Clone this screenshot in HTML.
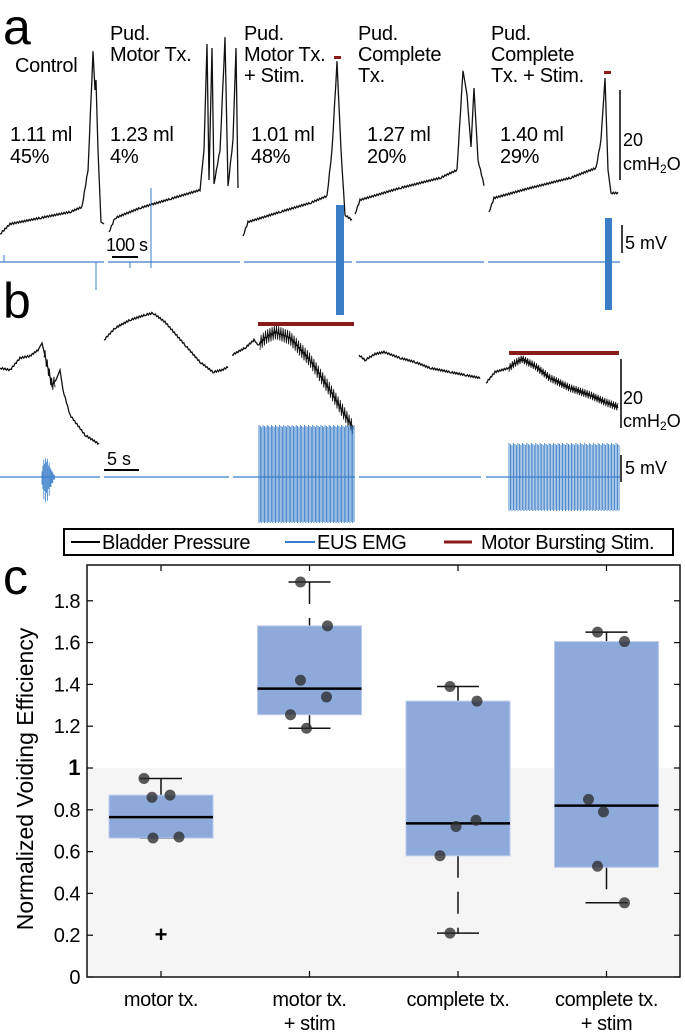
<!DOCTYPE html>
<html><head><meta charset="utf-8"><style>
body{margin:0;background:#fff}
svg{display:block;font-family:"Liberation Sans",sans-serif}
</style></head><body>
<svg id="fig" width="685" height="1032" viewBox="0 0 685 1032" xmlns="http://www.w3.org/2000/svg">
<g id="pa">
<text x="3" y="44" font-size="50">a</text>
<g font-size="20" fill="#000" letter-spacing="-0.3">
<text x="15" y="72">Control</text>
<text x="110" y="40"><tspan x="110">Pud.</tspan><tspan x="110" y="61">Motor Tx.</tspan></text>
<text x="244" y="40"><tspan x="244">Pud.</tspan><tspan x="244" y="61">Motor Tx.</tspan><tspan x="244" y="82">+ Stim.</tspan></text>
<text x="358" y="40"><tspan x="358">Pud.</tspan><tspan x="358" y="61">Complete</tspan><tspan x="358" y="82">Tx.</tspan></text>
<text x="491" y="40"><tspan x="491">Pud.</tspan><tspan x="491" y="61">Complete</tspan><tspan x="491" y="82">Tx. + Stim.</tspan></text>
<text x="10" y="141"><tspan x="10">1.11 ml</tspan><tspan x="10" y="163">45%</tspan></text>
<text x="110" y="141"><tspan x="110">1.23 ml</tspan><tspan x="110" y="163">4%</tspan></text>
<text x="251" y="141"><tspan x="251">1.01 ml</tspan><tspan x="251" y="163">48%</tspan></text>
<text x="367" y="141"><tspan x="367">1.27 ml</tspan><tspan x="367" y="163">20%</tspan></text>
<text x="500" y="141"><tspan x="500">1.40 ml</tspan><tspan x="500" y="163">29%</tspan></text>
</g>
<line x1="620" y1="90" x2="620" y2="180" stroke="#000" stroke-width="1.5"/>
<text x="623" y="146" font-size="18">20</text>
<text x="623" y="170" font-size="18">cmH<tspan font-size="12" dy="3">2</tspan><tspan dy="-3">O</tspan></text>
<line x1="622" y1="225" x2="622" y2="253" stroke="#000" stroke-width="1.5"/>
<text x="625" y="249" font-size="18">5 mV</text>
<line x1="112" y1="257" x2="138" y2="257" stroke="#000" stroke-width="2"/>
<text x="106" y="251" font-size="18" letter-spacing="-0.5">100 s</text>
<rect x="334" y="56" width="7" height="3" fill="#8b1a1a"/>
<rect x="604" y="71" width="7" height="3" fill="#8b1a1a"/>
</g>
<g id="pb">
<text x="3" y="318" font-size="50">b</text>
<rect x="258" y="322" width="96" height="4" fill="#8b1a1a"/>
<rect x="509" y="351" width="110" height="4" fill="#8b1a1a"/>
<line x1="621" y1="359" x2="621" y2="428" stroke="#000" stroke-width="1.5"/>
<text x="623" y="404" font-size="18">20</text>
<text x="623" y="427" font-size="18">cmH<tspan font-size="12" dy="3">2</tspan><tspan dy="-3">O</tspan></text>
<line x1="621" y1="455" x2="621" y2="482" stroke="#000" stroke-width="1.5"/>
<text x="625" y="474" font-size="18">5 mV</text>
<line x1="104" y1="470" x2="139" y2="470" stroke="#000" stroke-width="2"/>
<text x="107" y="465" font-size="18">5 s</text>
<g>
<rect x="64" y="529" width="609" height="26" fill="#fff" stroke="#000" stroke-width="2"/>
<line x1="71" y1="542" x2="100" y2="542" stroke="#000" stroke-width="2"/>
<text x="102" y="549" font-size="20" letter-spacing="-0.4">Bladder Pressure</text>
<line x1="285" y1="542" x2="315" y2="542" stroke="#3a7ec8" stroke-width="2"/>
<text x="317" y="549" font-size="20" letter-spacing="-0.4">EUS EMG</text>
<line x1="444" y1="542" x2="472" y2="542" stroke="#8b1a1a" stroke-width="3"/>
<text x="481" y="549" font-size="20" letter-spacing="-0.4">Motor Bursting Stim.</text>
</g>
</g>
<g id="pc">
<text x="3" y="594" font-size="50">c</text>
</g>
</svg>
<script>
const NS="http://www.w3.org/2000/svg";
const svg=document.getElementById('fig');
// ---- trace data (panel a): [x, y] control points
const traceA_control=[[0,234],[10,224],[40,218],[70,212],[82,207],[88,170],[93,52],[95,90],[96,80],[98,150],[101,222],[104,224]];
const traceA_motor=[[109,232],[115,218],[140,208],[170,199],[200,190],[204,150],[207,44],[209,180],[212,48],[214,184],[220,150],[225,38],[228,186],[233,140],[236,48],[238,188]];
const traceA_motorStim=[[243,236],[248,222],[280,212],[310,203],[327,196],[332,150],[337,62],[341,150],[345,215],[352,220]];
const traceA_complete=[[355,214],[360,200],[400,188],[440,178],[457,170],[463,70],[467,95],[471,147],[474,88],[478,160],[484,185]];
const traceA_completeStim=[[489,212],[494,198],[530,188],[570,178],[596,168],[601,140],[605,78],[608,170],[611,193],[618,193]];
// panel b
const traceB_control=[[0,368],[10,370],[20,358],[30,356],[38,350],[42,343],[46,360],[52,385],[56,380],[60,370],[63,390],[70,415],[85,435],[99,444]];
const traceB_motor=[[104,340],[115,328],[130,320],[145,315],[153,313],[165,322],[185,345],[200,362],[213,372],[222,370],[228,367]];
const traceB_motorStim=[[232,355],[245,348],[254,340],[258,345],[266,337],[276,332],[290,338],[310,360],[330,390],[353,428]];
const traceB_complete=[[359,355],[365,360],[375,354],[384,352],[400,358],[415,362],[430,368],[450,372],[465,375],[480,378]];
const traceB_completeStim=[[486,383],[495,372],[509,368],[515,363],[522,359],[535,366],[550,378],[570,388],[590,395],[605,402],[618,407]];
const ripple_motorStim=[260,353,7];
const ripple_completeStim=[509,618,4];
const ripple_control=[44,56,6];
// EMG
const emgA_gaps=[[104,108],[240,244],[352,356],[484,488]];
const emgA_spikes=[[96,262,290],[151,188,268],[4,255,262],[130,262,268]];
const emgA_blocks=[[336,344,205,315],[605,612,218,310]];
const emgB_gaps=[[100,104],[229,233],[355,359],[481,486]];
const emgB_burst=[[47,458,502]];
const emgB_blocks=[[259,354,425,523,70],[509,619,443,511,75]];

function el(tag,attrs,parent){const e=document.createElementNS(NS,tag);for(const k in attrs)e.setAttribute(k,attrs[k]);(parent||svg).appendChild(e);return e;}
function interp(pts,x){for(let i=0;i<pts.length-1;i++){if(x>=pts[i][0]&&x<=pts[i+1][0]){const t=(x-pts[i][0])/((pts[i+1][0]-pts[i][0])||1);return pts[i][1]+t*(pts[i+1][1]-pts[i][1]);}}return pts[pts.length-1][1];}
function trace(pts,name,rip){
  let d='M'+pts[0][0]+','+pts[0][1];
  for(let i=1;i<pts.length;i++){
    const [x0,y0]=pts[i-1],[x1,y1]=pts[i];
    const n=Math.max(1,Math.round((x1-x0)/1.2));
    for(let k=1;k<=n;k++){const x=x0+(x1-x0)*k/n,y=y0+(y1-y0)*k/n;const w=(k%2?0.8:-0.8)*(Math.abs(x1-x0)>4?1:0);d+=' L'+x.toFixed(1)+','+(y+w).toFixed(1);}
  }
  const p=el('path',{d:d,fill:'none',stroke:'#111','stroke-width':1.3});
  
  
  if(rip){let r='';let s=1;for(let x=rip[0];x<=rip[1];x+=1.1){const y=interp(pts,x);r+=(r?' L':'M')+x.toFixed(1)+','+(y+s*rip[2]).toFixed(1);s=-s;}
    const q=el('path',{d:r,fill:'none',stroke:'#111','stroke-width':0.8});
    
    }
}
trace(traceA_control,'pressure-trace-a-control');
trace(traceA_motor,'pressure-trace-a-motor');
trace(traceA_motorStim,'pressure-trace-a-motor-stim');
trace(traceA_complete,'pressure-trace-a-complete');
trace(traceA_completeStim,'pressure-trace-a-complete-stim');
trace(traceB_control,'pressure-trace-b-control',ripple_control);
trace(traceB_motor,'pressure-trace-b-motor');
trace(traceB_motorStim,'pressure-trace-b-motor-stim',ripple_motorStim);
trace(traceB_complete,'pressure-trace-b-complete');
trace(traceB_completeStim,'pressure-trace-b-complete-stim',ripple_completeStim);

const BLUE='#3a7ec8';
function baseline(y,gaps,name){let x=0;const segs=[];gaps.forEach(g=>{segs.push([x,g[0]]);x=g[1];});segs.push([x,620]);
  segs.forEach(s=>{const l=el('line',{x1:s[0],x2:s[1],y1:y,y2:y,stroke:BLUE,'stroke-width':1.2});});}
baseline(262,emgA_gaps,'emg-baseline-a');
emgA_spikes.forEach(s=>{const l=el('line',{x1:s[0],x2:s[0],y1:s[1],y2:s[2],stroke:BLUE,'stroke-width':1});});
emgA_blocks.forEach(b=>{const r=el('rect',{x:b[0],y:b[2],width:b[1]-b[0],height:b[3]-b[2],fill:BLUE});});
baseline(477,emgB_gaps,'emg-baseline-b');
const burstAmp=[0.3,0.6,0.9,0.7,1,0.8,0.95,0.6,0.75,0.5,0.4,0.3,0.25,0.15,0.1];
emgB_burst.forEach(b=>{burstAmp.forEach((a,i)=>{const x=b[0]-5+i*0.9;const l=el('line',{x1:x,x2:x,y1:477-(477-b[1])*a,y2:477+(b[2]-477)*a*(i%2?0.8:1),stroke:BLUE,'stroke-width':0.8});});});
emgB_blocks.forEach(b=>{const n=b[4];for(let i=0;i<n;i++){const x=b[0]+(b[1]-b[0])*i/(n-1);const l=el('line',{x1:x,x2:x,y1:b[2]+(i%3),y2:b[3]-(i%2),stroke:BLUE,'stroke-width':0.9});}});

// ---- panel c box plot data
const categories=['motor tx.','motor tx.|+ stim','complete tx.','complete tx.|+ stim'];
const q1=[0.665,1.255,0.58,0.525];
const medians=[0.765,1.38,0.735,0.82];
const q3=[0.87,1.68,1.32,1.605];
const whiskLo=[0.665,1.19,0.21,0.355];
const whiskHi=[0.95,1.89,1.39,1.65];
const outliers=[[0,0.2]];
const points=[[0.95,0.86,0.87,0.665,0.67],[1.89,1.68,1.42,1.34,1.255,1.19],[1.39,1.32,0.75,0.72,0.58,0.21],[1.65,1.605,0.85,0.79,0.53,0.355]];
const jitter=[[-17,-9,9,-8,18],[-9,18,-9,17,-19,-3],[-8,19,18,-2,-18,-8],[-9,18,-18,-3,-9,18]];
const yTicks=[0,0.2,0.4,0.6,0.8,1,1.2,1.4,1.6,1.8];
const pc=document.getElementById('pc');
const L=87,R=680,T=565,B=977;
const y=v=>B-v*209;
const xc=i=>161+i*148.5;
el('rect',{x:L,y:y(1),width:R-L,height:B-y(1),fill:'#f5f5f5'},pc);
for(let i=0;i<categories.length;i++){
  const c=xc(i);
  const w1=el('line',{x1:c,x2:c,y1:y(whiskHi[i]),y2:y(q3[i]),stroke:'#111','stroke-width':1.5,'stroke-dasharray':'22,14'},pc);
  
  const w2=el('line',{x1:c,x2:c,y1:y(q1[i]),y2:y(whiskLo[i]),stroke:'#111','stroke-width':1.5,'stroke-dasharray':'22,14'},pc);
  
  [whiskHi[i],whiskLo[i]].forEach(v=>{const cap=el('line',{x1:c-21,x2:c+21,y1:y(v),y2:y(v),stroke:'#111','stroke-width':1.5},pc);});
  const box=el('rect',{x:c-52,y:y(q3[i]),width:104,height:y(q1[i])-y(q3[i]),fill:'#8eaadb',stroke:'#b8cbec','stroke-width':1},pc);
  
  const m=el('line',{x1:c-52,x2:c+52,y1:y(medians[i]),y2:y(medians[i]),stroke:'#000','stroke-width':2.5},pc);
  
  points[i].forEach((v,j)=>{const d=el('circle',{cx:c+jitter[i][j],cy:y(v),r:5.5,fill:'rgba(45,45,45,0.78)'},pc);});
  const lines=categories[i].split('|');
  lines.forEach((t,k)=>{const tx=el('text',{x:c,y:1006+k*24,'font-size':20,'letter-spacing':-0.4,'text-anchor':'middle'},pc);tx.textContent=t;});
  const tk=el('line',{x1:c,x2:c,y1:B,y2:B-6,stroke:'#000','stroke-width':1.2},pc);
  const tk2=el('line',{x1:c,x2:c,y1:T,y2:T+6,stroke:'#000','stroke-width':1.2},pc);
}
outliers.forEach(o=>{const t=el('text',{x:xc(o[0]),y:y(o[1])+7,'font-size':22,'font-weight':'bold','text-anchor':'middle'},pc);t.textContent='+';});
yTicks.forEach(v=>{const t=el('text',{x:L-7,y:y(v)+7,'font-size':v===1?22:20,'letter-spacing':-0.5,'font-weight':v===1?'bold':'normal','text-anchor':'end'},pc);t.textContent=String(v);
  const a=el('line',{x1:L,x2:L+6,y1:y(v),y2:y(v),stroke:'#000','stroke-width':1.2},pc);
  const b=el('line',{x1:R-6,x2:R,y1:y(v),y2:y(v),stroke:'#000','stroke-width':1.2},pc);});
const frame=el('rect',{x:L,y:T,width:R-L,height:B-T,fill:'none',stroke:'#111','stroke-width':1.5},pc);

const yl=el('text',{x:0,y:0,'font-size':23,'text-anchor':'middle',transform:'translate(33,779) rotate(-90)'},pc);
yl.textContent='Normalized Voiding Efficiency';


</script>
</body></html>
